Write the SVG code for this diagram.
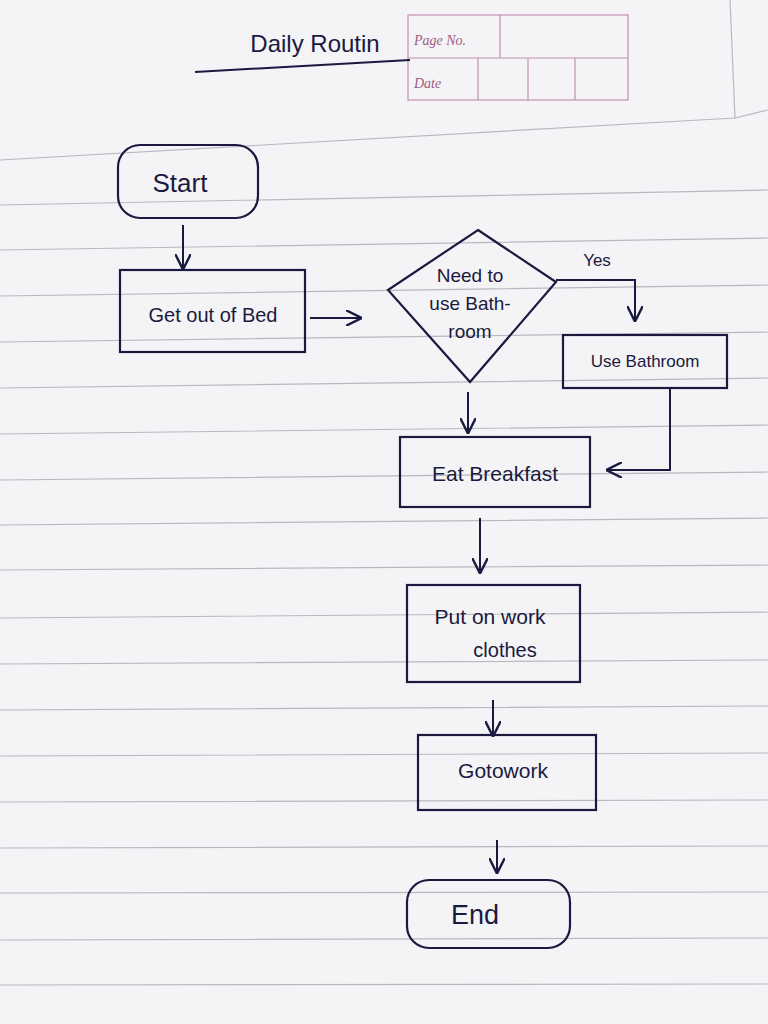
<svg xmlns="http://www.w3.org/2000/svg" width="768" height="1024" viewBox="0 0 768 1024">
<style>
.ln{stroke:#b8b8c0;stroke-width:1.2;fill:none}
.sh{stroke:#1a1a40;stroke-width:2.2;fill:none}
.cn{stroke:#1a1a40;stroke-width:2;fill:none}
.t{font-family:"Liberation Sans",sans-serif;fill:#1a1a40;font-size:19px;text-anchor:middle}
.pg{font-family:"Liberation Serif",serif;font-style:italic;fill:#a05a80;font-size:14px}
</style>
<defs><marker id="ar" viewBox="0 0 10 10" refX="9" refY="5" markerWidth="8" markerHeight="8" orient="auto"><path d="M0,0 L10,5 L0,10" fill="none" stroke="#1a1a40" stroke-width="1.5"/></marker></defs>
<rect width="768" height="1024" fill="#f4f4f6"/>
<g id="paper">
<path class="ln" d="M0,160 L735,118 M0,205 L768,190 M0,250 L768,238 M0,296 L768,285 M0,342 L768,332 M0,388 L768,378 M0,434 L768,425 M0,480 L768,472 M0,525 L768,518 M0,570 L768,565 M0,618 L768,612 M0,664 L768,660 M0,710 L768,706 M0,756 L768,753 M0,802 L768,800 M0,848 L768,846 M0,893 L768,892 M0,940 L768,938 M0,985 L768,984"/>
<path class="ln" d="M730,0 L735,118 L768,110"/>
<rect x="408" y="15" width="220" height="85" fill="none" stroke="#c090b0" stroke-width="1.2"/>
<path d="M408,58 L628,58 M500,15 L500,58 M478,58 L478,100 M528,58 L528,100 M575,58 L575,100" stroke="#c090b0" stroke-width="1.2" fill="none"/>
<text class="pg" x="414" y="45">Page No.</text>
<text class="pg" x="414" y="88">Date</text>
</g>
<g id="title"><text class="t" x="315" y="52" style="font-size:24px">Daily Routin</text><path class="cn" d="M195,72 L410,60"/></g>
<g id="start"><rect class="sh" x="118" y="145" width="140" height="73" rx="22"/><text class="t" x="180" y="192" style="font-size:26px">Start</text></g>
<g id="bed"><rect class="sh" x="120" y="270" width="185" height="82"/><text class="t" x="213" y="322" style="font-size:20px">Get out of Bed</text></g>
<g id="need"><path class="sh" d="M478,230 L556,282 L470,382 L388,290 Z"/><text class="t" x="470" y="282">Need to</text><text class="t" x="470" y="310">use Bath-</text><text class="t" x="470" y="338">room</text></g>
<g id="usebath"><rect class="sh" x="563" y="335" width="164" height="53"/><text class="t" x="645" y="367" style="font-size:17px">Use Bathroom</text></g>
<g id="eat"><rect class="sh" x="400" y="437" width="190" height="70"/><text class="t" x="495" y="481" style="font-size:21px">Eat Breakfast</text></g>
<g id="clothes"><rect class="sh" x="407" y="585" width="173" height="97"/><text class="t" x="490" y="624" style="font-size:21px">Put on work</text><text class="t" x="505" y="657" style="font-size:20px">clothes</text></g>
<g id="gowork"><rect class="sh" x="418" y="735" width="178" height="75"/><text class="t" x="503" y="778" style="font-size:21px">Gotowork</text></g>
<g id="end"><rect class="sh" x="407" y="880" width="163" height="68" rx="22"/><text class="t" x="475" y="924" style="font-size:27px">End</text></g>
<g id="connectors">
<path class="cn" marker-end="url(#ar)" d="M183,225 L183,268"/>
<path class="cn" marker-end="url(#ar)" d="M310,318 L360,318"/>
<path class="cn" marker-end="url(#ar)" d="M556,280 L635,280 L635,320"/>
<text class="t" x="597" y="266" style="font-size:17px">Yes</text>
<path class="cn" marker-end="url(#ar)" d="M670,388 L670,470 L608,470"/>
<path class="cn" marker-end="url(#ar)" d="M468,392 L468,432"/>
<path class="cn" marker-end="url(#ar)" d="M480,518 L480,572"/>
<path class="cn" marker-end="url(#ar)" d="M493,700 L493,735"/>
<path class="cn" marker-end="url(#ar)" d="M497,840 L497,872"/>
</g>
</svg>
